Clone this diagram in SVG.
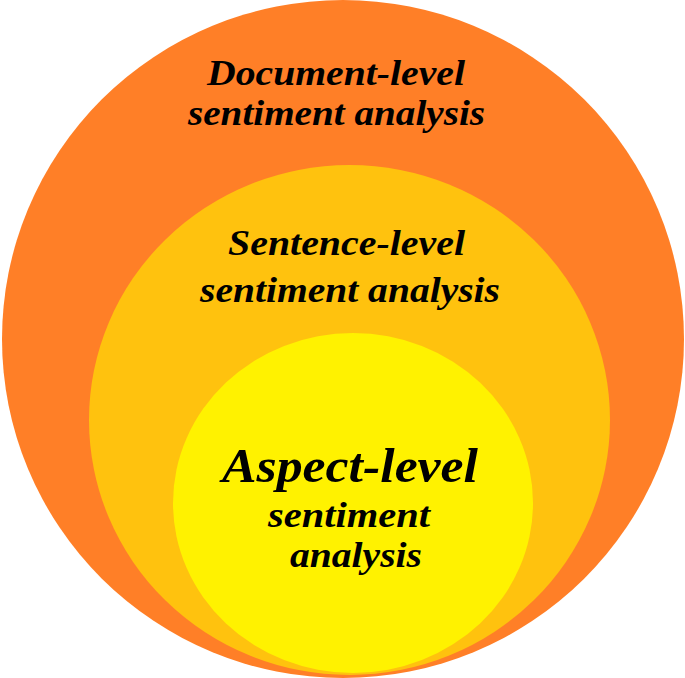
<svg xmlns="http://www.w3.org/2000/svg" width="685" height="678" viewBox="0 0 685 678">
  <style>
    .lbl { font-family: "Liberation Serif", "DejaVu Serif", serif; font-weight: bold; font-style: italic; fill: #000; }
  </style>
  <rect width="685" height="678" fill="#ffffff"/>
  <g id="document-level">
    <ellipse cx="343" cy="339" rx="341" ry="339" fill="#FF7F27"/>
    <text class="lbl" x="207" y="85" font-size="36" textLength="258" lengthAdjust="spacingAndGlyphs">Document-level</text>
    <text class="lbl" x="188" y="125" font-size="36" textLength="297" lengthAdjust="spacingAndGlyphs">sentiment analysis</text>
  </g>
  <g id="sentence-level">
    <ellipse cx="349.5" cy="420" rx="260.5" ry="255" fill="#FFC20E"/>
    <text class="lbl" x="228" y="255" font-size="36" textLength="237" lengthAdjust="spacingAndGlyphs">Sentence-level</text>
    <text class="lbl" x="200" y="302" font-size="36" textLength="300" lengthAdjust="spacingAndGlyphs">sentiment analysis</text>
  </g>
  <g id="aspect-level">
    <ellipse cx="353" cy="503" rx="180" ry="170" fill="#FFF200"/>
    <text class="lbl" x="222" y="482" font-size="48" textLength="256" lengthAdjust="spacingAndGlyphs">Aspect-level</text>
    <text class="lbl" x="268" y="527" font-size="36" textLength="162" lengthAdjust="spacingAndGlyphs">sentiment</text>
    <text class="lbl" x="290" y="567" font-size="36" textLength="132" lengthAdjust="spacingAndGlyphs">analysis</text>
  </g>
  <g id="connectors"/>
</svg>
